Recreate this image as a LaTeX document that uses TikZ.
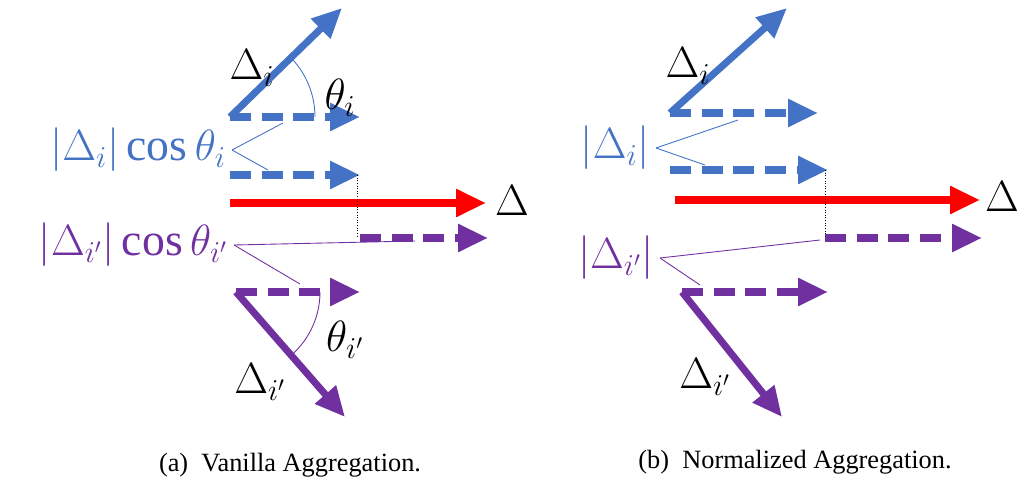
\documentclass[tikz,border=0pt]{standalone}
\usepackage{fontspec}
\setmainfont{Liberation Serif}
\usetikzlibrary{arrows.meta}
\definecolor{cb}{RGB}{68,114,196}
\definecolor{cp}{RGB}{112,48,160}
\definecolor{cr}{RGB}{255,0,0}
\begin{document}
\begin{tikzpicture}[x=0.02cm,y=-0.02cm,
 arr/.style={line width=4pt,-{Triangle[length=17pt,width=15pt]}},
 dsh/.style={arr,dash pattern=on 12pt off 6pt},
 thn/.style={line width=0.5pt},
 lbl/.style={font=\fontsize{26}{28}\selectfont},
 capt/.style={font=\fontsize{15}{17}\selectfont}]
\useasboundingbox (0,0) rectangle (1019,483);
% left panel
\coordinate (a1) at (230,117);
\coordinate (a2) at (230,175);
\coordinate (a3) at (236,292);
\draw[arr,cb] (a1) -- (342,8) coordinate (t1);
\draw[dsh,cb] (a1) -- (360,117) coordinate (d1);
\draw[dsh,cb] (a2) -- (360,175) coordinate (d2);
\draw[arr,cr] (230,203) coordinate (r0) -- (486,203) coordinate (r1);
\draw[dsh,cp] (360,238) coordinate (p0) -- (488,238) coordinate (p1);
\draw[dsh,cp] (a3) -- (360,292) coordinate (d3);
\draw[arr,cp] (a3) -- (345,417) coordinate (t3);
\draw[thn,densely dotted] (357,175) -- (357,238);
\draw[cb,thn] (315,117) arc[start angle=0,end angle=-45,radius=85];
\draw[cp,thn] (320,292) arc[start angle=0,end angle=48,radius=84];
\node[lbl] (li) at (252,68) {$\Delta_i$};
\node[lbl] (th) at (340,98) {$\theta_i$};
\node[lbl] (lip) at (260,382) {$\Delta_{i'}$};
\node[lbl] (thp) at (345,340) {$\theta_{i'}$};
\node[lbl] (dl) at (512,201) {$\Delta$};
\node[lbl,cb,anchor=east] (cb1) at (232,150) {$|\Delta_i|\cos\theta_i$};
\node[lbl,cp,anchor=east] (cp1) at (234,245) {$|\Delta_{i'}|\cos\theta_{i'}$};
\draw[cb,thn] (cb1.east) -- (283,123);
\draw[cb,thn] (cb1.east) -- (268,170);
\draw[cp,thn] (cp1.east) -- (415,241);
\draw[cp,thn] (cp1.east) -- (300,284);
\node[capt] (ca) at (290,465) {(a)\ \ Vanilla Aggregation.};
% right panel
\coordinate (b1) at (670,113);
\coordinate (b2) at (670,170);
\coordinate (b3) at (682,292);
\draw[arr,cb] (b1) -- (787,8);
\draw[dsh,cb] (b1) -- (818,113);
\draw[dsh,cb] (b2) -- (828,170);
\draw[arr,cr] (675,200) -- (980,200);
\draw[dsh,cp] (825,238) -- (982,238);
\draw[dsh,cp] (b3) -- (828,292);
\draw[arr,cp] (b3) -- (782,417);
\draw[thn,densely dotted] (825,170) -- (825,238);
\node[lbl] (ri) at (688,66) {$\Delta_i$};
\node[lbl] (rip) at (705,377) {$\Delta_{i'}$};
\node[lbl] (rd) at (1002,197) {$\Delta$};
\node[lbl,cb,anchor=east] (cb2) at (656,148) {$|\Delta_i|$};
\node[lbl,cp,anchor=east] (cp2) at (660,258) {$|\Delta_{i'}|$};
\draw[cb,thn] (cb2.east) -- (738,120);
\draw[cb,thn] (cb2.east) -- (705,165);
\draw[cp,thn] (cp2.east) -- (820,240);
\draw[cp,thn] (cp2.east) -- (700,285);
\node[capt] (cbx) at (795,462) {(b)\ \ Normalized Aggregation.};
\end{tikzpicture}
\end{document}
